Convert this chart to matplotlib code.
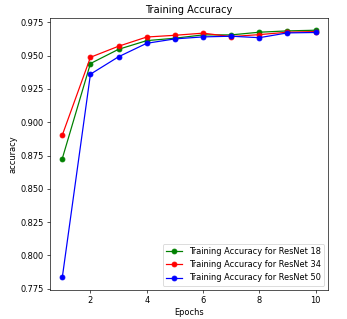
import numpy as np
import matplotlib.pyplot as plt

epochs = np.arange(1, 11)
acc_resnet18 = [0.8727, 0.9440, 0.9547, 0.9612, 0.9630, 0.9655, 0.9655, 0.9675, 0.9685, 0.9690]
acc_resnet34 = [0.8903, 0.9487, 0.9570, 0.9639, 0.9652, 0.9668, 0.9642, 0.9657, 0.9675, 0.9680]
acc_resnet50 = [0.7835, 0.9360, 0.9491, 0.9592, 0.9625, 0.9640, 0.9645, 0.9634, 0.9670, 0.9673]

dpi = 59
fig = plt.figure(figsize=(347/dpi, 319/dpi), dpi=dpi)
ax = fig.add_axes([0.143, 0.0915, 0.803, 0.8525])

ax.plot(epochs, acc_resnet18, 'o-', color='green', label='Training Accuracy for ResNet 18')
ax.plot(epochs, acc_resnet34, 'o-', color='red', label='Training Accuracy for ResNet 34')
ax.plot(epochs, acc_resnet50, 'o-', color='blue', label='Training Accuracy for ResNet 50')

ax.set_title('Training Accuracy')
ax.set_xlabel('Epochs')
ax.set_ylabel('accuracy')
ax.set_xticks([2, 4, 6, 8, 10])
ax.legend(loc='lower right')

fig.savefig('out.png', dpi=dpi)
